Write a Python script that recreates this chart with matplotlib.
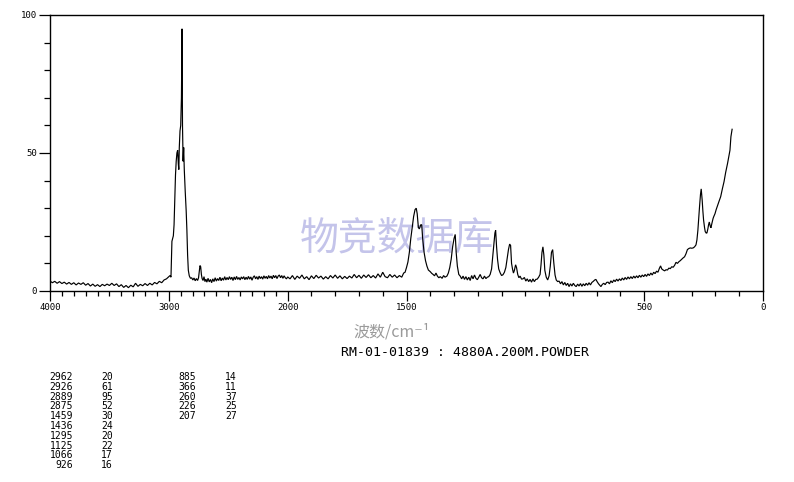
import numpy as np
import matplotlib
matplotlib.use("Agg")
import matplotlib.pyplot as plt
from matplotlib.ticker import FixedLocator, NullFormatter

# ---------------- data ----------------
wavenumber_high = [
    4000, 3980, 3960, 3940, 3920, 3900, 3880, 3860, 3840, 3820, 3800, 3780, 3760, 3740, 3720,
    3700, 3680, 3660, 3640, 3620, 3600, 3580, 3560, 3540, 3520, 3500, 3480, 3460, 3440, 3420,
    3400, 3380, 3360, 3340, 3320, 3300, 3280, 3260, 3240, 3220, 3200, 3180, 3160, 3140, 3120,
    3100, 3080, 3060, 3040, 3020, 3005, 2990, 2982, 2978, 2974, 2968, 2962, 2956, 2950, 2944,
    2938, 2932, 2926, 2920, 2916, 2912, 2906, 2900, 2894, 2889, 2885, 2880, 2875, 2870, 2862,
    2854, 2848, 2842, 2836, 2828, 2818, 2808, 2798, 2788, 2778, 2768, 2758, 2750, 2744, 2738,
    2732, 2726, 2720, 2712, 2704, 2696, 2688, 2680, 2670, 2660, 2650, 2640, 2630, 2620, 2610,
    2600, 2590, 2580, 2570, 2560, 2550, 2540, 2530, 2520, 2510, 2500, 2490, 2480, 2470, 2460,
    2450, 2440, 2430, 2420, 2410, 2400, 2390, 2380, 2370, 2360, 2350, 2340, 2330, 2320, 2310,
    2300, 2290, 2280, 2270, 2260, 2250, 2240, 2230, 2220, 2210, 2200, 2190, 2180, 2170, 2160,
    2150, 2140, 2130, 2120, 2110, 2100, 2090, 2080, 2070, 2060, 2050, 2040, 2030, 2020, 2010,
]
intensity_high = [
    3.6, 3.0, 3.5, 2.8, 3.4, 2.7, 3.2, 2.5, 3.1, 2.4, 3.0, 2.2, 2.9, 2.4, 3.0,
    2.1, 2.7, 1.8, 2.5, 1.7, 2.3, 1.6, 2.4, 1.9, 2.5, 2.0, 2.8, 2.0, 2.6, 1.6,
    2.3, 1.3, 2.0, 1.2, 2.1, 1.5, 2.8, 1.7, 2.4, 1.9, 2.7, 2.0, 2.8, 2.2, 3.1,
    2.6, 3.5, 3.0, 4.0, 4.4, 5.0, 5.6, 5.0, 12.0, 18.0, 19.0, 20.0, 24.0, 33.0, 42.0,
    47.0, 50.0, 51.0, 46.0, 44.0, 52.0, 58.0, 60.0, 70.0, 95.0, 60.0, 47.0, 52.0, 44.0, 36.0,
    29.0, 22.0, 13.0, 7.5, 5.5, 4.6, 4.8, 4.0, 4.7, 3.7, 4.5, 3.8, 4.8, 7.0, 9.2,
    8.8, 6.0, 4.5, 3.8, 5.2, 3.4, 4.3, 3.2, 4.6, 3.3, 4.2, 3.0, 4.4, 3.4, 4.8,
    3.6, 4.5, 3.8, 5.0, 3.7, 4.7, 3.9, 5.2, 4.0, 4.9, 4.1, 5.2, 4.2, 5.0, 3.8,
    5.1, 4.1, 5.3, 4.2, 4.9, 4.0, 5.1, 4.4, 5.2, 4.1, 5.0, 4.2, 5.3, 4.3, 5.1,
    3.9, 5.0, 5.5, 4.4, 5.2, 4.2, 5.4, 4.5, 5.2, 4.3, 5.5, 4.6, 5.3, 4.4, 5.6,
    4.7, 5.4, 4.4, 5.7, 4.8, 5.6, 4.5, 5.4, 5.8, 4.8, 5.6, 4.6, 5.5, 4.8, 4.4,
]

wavenumber_mid = [
    2000, 1990, 1980, 1970, 1960, 1950, 1940, 1930, 1920, 1910, 1900, 1890, 1880, 1870, 1860,
    1850, 1840, 1830, 1820, 1810, 1800, 1790, 1780, 1770, 1760, 1750, 1740, 1730, 1720, 1710,
    1700, 1690, 1680, 1670, 1660, 1650, 1640, 1630, 1620, 1610, 1600, 1590, 1580, 1570, 1560,
    1550, 1540, 1530, 1520, 1512, 1506, 1500, 1494, 1488, 1482, 1476, 1470, 1464, 1459, 1455,
    1450, 1446, 1440, 1436, 1432, 1426, 1420, 1414, 1408, 1400, 1394, 1388, 1382, 1376, 1370,
    1364, 1358, 1350, 1344, 1338, 1330, 1324, 1318, 1312, 1306, 1300, 1295, 1291, 1286, 1280,
    1274, 1268, 1262, 1256, 1250, 1244, 1238, 1232, 1226, 1220, 1214, 1208, 1202, 1196, 1190,
    1184, 1178, 1172, 1166, 1160, 1154, 1148, 1142, 1137, 1132, 1128, 1125, 1121, 1117, 1112,
    1106, 1100, 1094, 1088, 1082, 1076, 1071, 1066, 1062, 1058, 1054, 1050, 1046, 1041, 1037,
    1032, 1027, 1022, 1016, 1010, 1004, 998, 992, 986, 980, 974, 968, 962, 956, 950,
    944, 938, 934, 930, 926, 922, 918, 912, 906, 900, 895, 890, 885, 880, 875,
]
intensity_mid = [
    5.1, 4.4, 5.6, 4.2, 5.4, 4.6, 5.8, 4.4, 5.2, 4.1, 5.5, 4.5, 5.7, 4.7, 5.4,
    4.3, 5.2, 4.4, 5.6, 4.7, 5.8, 4.6, 5.5, 4.4, 5.3, 4.5, 5.4, 4.7, 6.0, 4.8,
    5.7, 4.6, 5.8, 4.9, 5.9, 4.8, 5.6, 4.7, 6.2, 5.0, 6.8, 5.2, 4.8, 6.0, 5.0,
    5.8, 4.8, 5.6, 5.0, 6.5, 6.8, 8.5, 10.5, 14.0, 19.0, 23.0, 27.0, 29.5, 30.0, 28.0,
    23.0, 22.5, 24.0, 24.0, 19.0, 14.0, 11.0, 9.0, 7.6, 7.0, 6.4, 6.0, 5.5, 6.5, 5.4,
    4.8, 5.2, 4.6, 5.6, 5.0, 5.4, 6.5, 8.5, 11.5, 16.0, 19.0, 20.5, 14.0, 9.0, 6.0,
    5.4, 4.4, 5.4, 4.2, 5.2, 4.0, 5.0, 3.8, 5.6, 4.4, 5.8, 4.6, 4.1, 5.0, 6.0,
    4.8, 4.4, 5.4, 4.5, 5.0, 5.2, 6.0, 8.0, 12.5, 17.0, 21.0, 22.0, 16.0, 11.5, 8.0,
    6.6, 5.6, 5.9, 6.8, 8.5, 12.0, 15.0, 17.0, 16.5, 10.0, 8.0, 6.5, 7.5, 9.5, 8.5,
    6.0, 4.8, 5.4, 4.3, 4.4, 4.9, 3.6, 4.4, 3.4, 4.2, 3.2, 4.4, 3.4, 4.2, 4.3,
    5.0, 6.0, 9.5, 14.0, 16.0, 13.0, 7.5, 5.0, 4.0, 5.5, 9.0, 14.0, 15.0, 10.0, 5.8,
]

wavenumber_low = [
    870, 864, 858, 852, 846, 840, 834, 828, 822, 816, 810, 804, 798, 792, 786,
    780, 774, 768, 762, 756, 750, 744, 738, 732, 726, 720, 714, 708, 703, 698,
    692, 686, 682, 676, 670, 664, 658, 652, 646, 640, 634, 628, 622, 616, 610,
    604, 598, 592, 586, 580, 574, 568, 562, 556, 550, 544, 538, 532, 526, 520,
    514, 508, 502, 496, 490, 484, 478, 472, 466, 460, 454, 448, 442, 436, 431,
    426, 420, 414, 408, 402, 396, 390, 384, 378, 372, 366, 360, 354, 348, 342,
    336, 330, 324, 318, 312, 306, 300, 294, 288, 282, 278, 274, 270, 267, 263,
    260, 256, 253, 250, 246, 243, 239, 236, 232, 229, 226, 222, 219, 215, 210,
    207, 202, 197, 192, 185, 178, 171, 164, 157, 149, 143, 139, 135, 130,
]
intensity_low = [
    4.0, 3.4, 3.6, 2.6, 3.4, 2.2, 3.1, 2.0, 2.8, 1.6, 2.6, 1.8, 2.8, 2.0, 1.6,
    2.5, 1.8, 2.7, 1.7, 2.6, 1.9, 2.8, 2.1, 3.0, 2.2, 3.1, 3.5, 4.0, 4.2, 3.4,
    2.6, 2.0, 1.6, 2.4, 2.8, 2.3, 3.1, 3.2, 2.6, 3.7, 3.0, 4.0, 3.4, 4.3, 3.6,
    4.4, 3.8, 4.7, 4.0, 4.9, 4.2, 5.1, 4.4, 5.2, 4.5, 5.4, 4.7, 5.5, 4.8, 5.7,
    5.0, 5.8, 5.2, 6.0, 5.3, 6.2, 5.6, 6.5, 5.8, 6.8, 6.3, 7.2, 6.8, 8.2, 9.1,
    8.0, 7.6, 7.3, 7.7, 7.6, 8.3, 8.1, 8.8, 8.6, 9.3, 10.4, 10.0, 10.6, 11.0, 11.5,
    12.0, 12.4, 13.5, 15.0, 15.4, 15.6, 15.5, 15.6, 16.0, 16.7, 18.5, 22.0, 27.0, 30.6, 35.0,
    37.0, 33.0, 29.0, 25.7, 23.0, 21.5, 21.0, 21.0, 22.5, 24.0, 25.0, 23.5, 22.9, 24.5, 26.3,
    27.0, 28.0, 29.5, 30.8, 32.5, 34.2, 37.0, 39.6, 43.0, 46.3, 49.0, 51.0, 55.9, 58.6,
]

peak_positions_col1 = ["2962", "2926", "2889", "2875", "1459", "1436", "1295", "1125", "1066", "926"]
peak_heights_col1 = ["20", "61", "95", "52", "30", "24", "20", "22", "17", "16"]
peak_positions_col2 = ["885", "366", "260", "226", "207"]
peak_heights_col2 = ["14", "11", "37", "25", "27"]

x_major_ticks = [4000, 3000, 2000, 1500, 500, 0]
x_major_labels = ["4000", "3000", "2000", "1500", "500", "0"]
y_major_ticks = [0, 50, 100]
y_major_labels = ["0", "50", "100"]

title_text = "RM-01-01839 : 4880A.200M.POWDER"
xlabel_text = "波数/cm⁻¹"
watermark_text = "物竞数据库"

# ---------------- figure ----------------
W, H = 794, 482
fig = plt.figure(figsize=(W / 100, H / 100), dpi=100)
ax = fig.add_axes([50 / W, 1 - 291 / H, (763 - 50) / W, (291 - 15) / H])
ax.patch.set_alpha(0)
ax.set_zorder(1)


def fwd(w):
    w = np.asarray(w, dtype=float)
    return np.where(w >= 2000, 2000 + (w - 2000) * 0.5, w)


def inv(f):
    f = np.asarray(f, dtype=float)
    return np.where(f >= 2000, 2000 + (f - 2000) * 2.0, f)


ax.set_xscale("function", functions=(fwd, inv))

wn = np.array(wavenumber_high + wavenumber_mid + wavenumber_low, dtype=float)
it = np.array(intensity_high + intensity_mid + intensity_low, dtype=float)
ax.plot(wn, it, color="black", lw=0.85, solid_joinstyle="miter")

ax.set_xlim(4000, 0)
ax.set_ylim(0, 100)

ax.xaxis.set_major_locator(FixedLocator(x_major_ticks))
ax.set_xticklabels(x_major_labels)
ax.xaxis.set_minor_locator(FixedLocator(list(range(0, 4001, 100))))
ax.xaxis.set_minor_formatter(NullFormatter())
ax.yaxis.set_major_locator(FixedLocator(y_major_ticks))
ax.set_yticklabels(y_major_labels)
ax.yaxis.set_minor_locator(FixedLocator(list(range(0, 101, 10))))
ax.yaxis.set_minor_formatter(NullFormatter())

ax.tick_params(axis="x", which="major", direction="out", length=7, width=0.9, pad=1.5,
               labelsize=6.5, labelfontfamily="DejaVu Sans Mono")
ax.tick_params(axis="x", which="minor", direction="out", length=3.5, width=0.9)
ax.tick_params(axis="y", which="major", direction="out", length=8, width=0.9, pad=1.5,
               labelsize=6.5, labelfontfamily="DejaVu Sans Mono")
ax.tick_params(axis="y", which="minor", direction="out", length=4, width=0.9)
for s in ax.spines.values():
    s.set_linewidth(1.0)

# watermark (behind the spectrum)
fig.text(397 / W, 1 - 240 / H, watermark_text, fontsize=28, color="#c4c4ea",
         family=["Noto Sans CJK SC", "DejaVu Sans"], ha="center", va="center", zorder=0)

# axis label and title line
fig.text(392 / W, 1 - 332 / H, xlabel_text, fontsize=11.5, color="#9a9a9a",
         family=["Noto Sans CJK SC", "DejaVu Sans"], ha="center", va="center")
fig.text(341 / W, 1 - 352 / H, title_text, fontsize=9.5, color="black",
         family="DejaVu Sans Mono", ha="left", va="center")

# peak table
row0 = 377
dy = 9.8
for i, (p, h) in enumerate(zip(peak_positions_col1, peak_heights_col1)):
    yy = 1 - (row0 + i * dy) / H
    fig.text(73 / W, yy, p, fontsize=7, family="DejaVu Sans Mono", ha="right", va="center")
    fig.text(101 / W, yy, h, fontsize=7, family="DejaVu Sans Mono", ha="left", va="center")
for i, (p, h) in enumerate(zip(peak_positions_col2, peak_heights_col2)):
    yy = 1 - (row0 + i * dy) / H
    fig.text(196 / W, yy, p, fontsize=7, family="DejaVu Sans Mono", ha="right", va="center")
    fig.text(225 / W, yy, h, fontsize=7, family="DejaVu Sans Mono", ha="left", va="center")

fig.savefig("out.png", dpi=100)
